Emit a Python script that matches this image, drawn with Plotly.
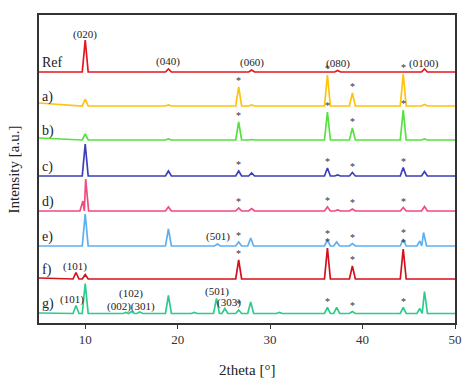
import plotly.graph_objects as go

# ---------------- data ----------------
series_names = ["Ref", "a)", "b)", "c)", "d)", "e)", "f)", "g)"]
series_colors = ["#e3161f", "#ffc20e", "#55e23f", "#3b3fb8", "#f04b7d", "#5cb0f2", "#d3111b", "#2fcb8c"]
offsets = [251, 217, 183, 147, 112, 77, 44, 9.5]
start_levels = [0, 3, 2, 0, 0, 0, 1, 0.5]

ref_pos = [10.0, 19.0, 28.0, 37.3, 46.7]
ref_h = [32, 3, 2, 1.5, 3]
a_pos = [10.0, 19.0, 26.6, 28.0, 36.2, 38.9, 44.4, 46.7]
a_h = [7, 1, 19, 1, 31, 13, 32, 1.5]
b_pos = [10.0, 19.0, 26.6, 28.0, 36.2, 38.9, 44.4, 46.7]
b_h = [6, 1, 18, 0.5, 28, 12, 30, 1]
c_pos = [10.0, 19.0, 26.6, 28.0, 36.2, 37.3, 38.9, 44.4, 46.7]
c_h = [32, 5, 5, 3, 8, 1, 3.5, 8.5, 4.5]
d_pos = [9.75, 10.05, 19.0, 26.6, 28.0, 36.2, 37.3, 38.9, 44.4, 46.7]
d_h = [10, 32, 4, 3, 2.5, 4, 1, 2, 3.5, 4.5]
e_pos = [10.0, 19.0, 24.3, 26.6, 27.9, 36.2, 37.2, 38.9, 44.4, 46.2, 46.6]
e_h = [32, 17, 2, 4, 8, 6, 4, 2.5, 7, 5, 13.5]
f_pos = [9.0, 10.0, 26.6, 36.2, 38.9, 44.4]
f_h = [6.5, 4.5, 19, 31, 13, 30]
g_pos = [9.0, 10.0, 14.4, 15.0, 15.9, 19.0, 21.8, 24.2, 25.1, 26.6, 27.9, 31.0, 36.2, 37.2, 38.9, 44.4, 46.2, 46.7]
g_h = [8, 30, 1, 2, 1.5, 18, 1, 15, 5, 3.5, 11.5, 1, 6, 6, 2, 6, 5, 22]

all_pos = [ref_pos, a_pos, b_pos, c_pos, d_pos, e_pos, f_pos, g_pos]
all_h = [ref_h, a_h, b_h, c_h, d_h, e_h, f_h, g_h]

star_pos = [26.6, 36.2, 38.9, 44.4]   # marked reflections (*) in a)–g)

x_ticks = [10, 20, 30, 40, 50]
x_range = [5, 50]

# ---------------- build figure ----------------
def vertices(pos, h, start, base):
    xs, ys = [x_range[0]], [base + start]
    n = len(pos)
    for i, (c, hh) in enumerate(zip(pos, h)):
        hw = 0.32
        if i > 0:
            hw = min(hw, (c - pos[i - 1]) / 2)
        hw_r = 0.32
        if i < n - 1:
            hw_r = min(hw_r, (pos[i + 1] - c) / 2)
        xs += [c - hw, c, c + hw_r]
        ys += [base, base + hh, base]
    xs.append(x_range[1])
    ys.append(base)
    return xs, ys

fig = go.Figure()
for name, col, off, st, pos, h in zip(series_names, series_colors, offsets, start_levels, all_pos, all_h):
    xs, ys = vertices(pos, h, st, off)
    fig.add_trace(go.Scatter(x=xs, y=ys, mode="lines", line=dict(color=col, width=1.7),
                             name=name, showlegend=False, hoverinfo="skip"))

annotations = []
serif = "Liberation Serif"
# series labels
for name, off in zip(series_names, offsets):
    annotations.append(dict(x=5.15, y=off + 9.5, text=name, showarrow=False, xanchor="left",
                            yanchor="middle", font=dict(family=serif, size=14, color="#222")))
# asterisks
for name, off, pos, h in list(zip(series_names, offsets, all_pos, all_h))[1:]:
    for sp in star_pos:
        if sp in pos:
            hh = h[pos.index(sp)]
            annotations.append(dict(x=sp, y=off + hh - 1, text="*", showarrow=False,
                                    xanchor="center", yanchor="bottom",
                                    font=dict(family=serif, size=10, color="#333")))

# Miller-index labels
miller = [
    ("(020)", 10.0, 289), ("(040)", 18.9, 262), ("(060)", 28.0, 261),
    ("(080)", 37.3, 260), ("(0100)", 46.7, 260),
    ("(501)", 24.4, 87), ("(101)", 8.9, 57),
    ("(101)", 8.6, 24), ("(102)", 14.9, 30), ("(002)(301)", 15.0, 17),
    ("(501)", 24.3, 32), ("(303)", 25.5, 21),
]
for txt, x, y in miller:
    annotations.append(dict(x=x, y=y, text=txt, showarrow=False, xanchor="center", yanchor="middle",
                            font=dict(family=serif, size=11, color="#222")))

# axis titles
annotations.append(dict(xref="paper", yref="paper", x=-0.059, y=0.5, text="Intensity [a.u.]",
                        textangle=-90, showarrow=False, xanchor="center", yanchor="middle",
                        font=dict(family=serif, size=15, color="#222")))
annotations.append(dict(xref="paper", yref="paper", x=0.5, y=-0.153, text="2theta [°]",
                        showarrow=False, xanchor="center", yanchor="middle",
                        font=dict(family=serif, size=15, color="#222")))

fig.update_layout(
    width=474, height=380,
    margin=dict(l=39, r=14, t=15, b=57),
    paper_bgcolor="white", plot_bgcolor="white",
    annotations=annotations,
    xaxis=dict(range=x_range, tickvals=x_ticks, ticks="outside", ticklen=4, tickwidth=1.2,
               tickcolor="#333", showline=True, linecolor="#333", linewidth=1.5, mirror=True,
               showgrid=False, zeroline=False,
               tickfont=dict(family=serif, size=13, color="#333")),
    yaxis=dict(range=[0, 308], showticklabels=False, ticks="", showline=True, linecolor="#333",
               linewidth=1.5, mirror=True, showgrid=False, zeroline=False),
)

fig.write_html("out.html", config={"displayModeBar": False},
               post_script="document.body.style.margin='0';document.body.style.padding='0';")
